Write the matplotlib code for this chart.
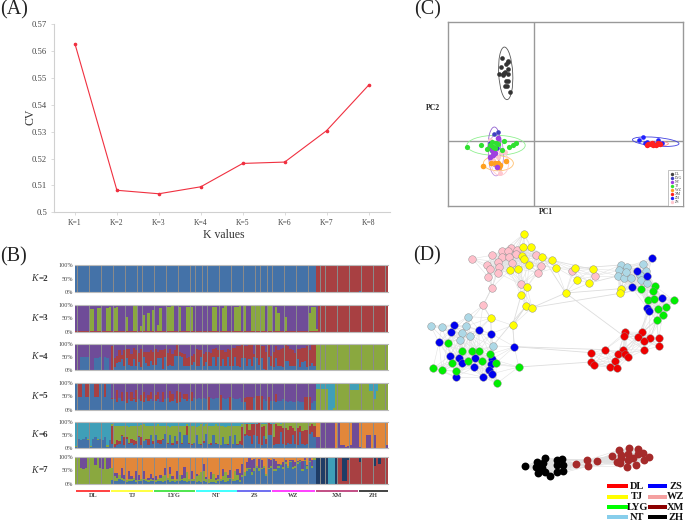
# -*- coding: utf-8 -*-
import numpy as np
import matplotlib
matplotlib.use('Agg')
import matplotlib.pyplot as plt
from matplotlib.patches import Ellipse, Rectangle

plt.rcParams['font.family'] = ['Liberation Serif', 'DejaVu Serif']

W, H = 685, 522

# ---- panel A
k_labels = ['K=1', 'K=2', 'K=3', 'K=4', 'K=5', 'K=6', 'K=7', 'K=8']
cv_values = [0.5627, 0.5082, 0.5069, 0.5095, 0.5182, 0.5187, 0.5304, 0.5473]
cv_ticks = [0.5, 0.51, 0.52, 0.53, 0.54, 0.55, 0.56, 0.57]
cv_ticklabels = ['0.5', '0.51', '0.52', '0.53', '0.54', '0.55', '0.56', '0.57']

# ---- panel B, percent of each individual, bottom layer first
BLUE, RED, GREEN, PURPLE = '#4472a8', '#a84042', '#8aa83f', '#6f4c98'
TEAL, ORANGE, NAVY = '#3f9fb8', '#e2873a', '#1f3d66'
n_ind = 130

k2_blue = [98] * 100 + [0] * 18 + [4] + [0] * 11

k3_green_idx = [6, 7, 9, 10, 13, 14, 16, 17, 21, 24, 25, 27, 28, 30, 32, 34, 35, 38, 39, 40, 43, 46, 47, 48,
                57, 58, 61, 62, 66, 67, 68, 70, 73, 74, 75, 76, 77, 78, 80, 81, 83, 84, 87, 97, 98, 99, 100]
k3_green_val = [82, 82, 85, 88, 85, 90, 88, 92, 55, 100, 100, 20, 60, 70, 80, 25, 85, 90, 90, 95, 92, 90, 90, 92,
                92, 92, 85, 95, 90, 90, 100, 100, 95, 95, 95, 95, 95, 95, 95, 95, 90, 70, 55, 70, 90, 90, 10]
k3_red = [1] * 101 + [100] * 29

k4_blue = [0, 0, 48, 48, 50, 48, 0, 0, 45, 45, 48, 0, 50, 45, 0,
           0, 10, 25, 30, 42, 15, 45, 20, 15, 42, 15, 30, 10, 50, 25, 15, 35, 20,
           20, 45, 45, 5, 50, 15, 20, 15, 52, 52, 52, 50, 15, 15, 15, 18, 30, 15,
           15, 50, 15, 30, 15, 15, 50, 15, 50, 15, 40, 15, 50, 15, 15, 50, 15, 10,
           45, 45, 15, 40, 15, 50, 45, 20, 45, 5, 0, 50, 15, 10, 45,
           15, 15, 10, 35, 35, 15, 15, 15, 40, 10, 30, 35, 10, 15, 25, 15]
k4_red = [0] * 15 + [90, 35, 30, 45, 15, 60, 35, 60, 45, 40, 60, 35, 70, 20, 45, 55, 40, 50,
                     60, 25, 30, 70, 30, 50, 60, 45, 25, 45, 15, 15, 45, 30, 35, 35, 30, 65,
                     60, 25, 45, 40, 55, 50, 30, 70, 25, 60, 35, 55, 30, 60, 70, 35, 75, 80,
                     50, 45, 75, 55, 85, 10, 50, 75, 45, 85, 70, 45, 40, 60, 45,
                     60, 65, 75, 60, 55, 65, 60, 50, 40, 70, 55, 50, 80, 60, 70, 85]
k4_green = [0] * 100 + [100] * 30

k5_blue = [100, 50, 50, 100, 48, 48, 100, 100, 48, 48, 100, 100, 48, 100, 100,
           40, 40, 30, 45, 35, 35, 25, 40, 35, 40, 30, 40, 35, 30, 45, 35, 40, 35,
           35, 40, 30, 30, 40, 45, 30, 35, 40, 25, 30, 45, 40, 35, 40, 35, 45, 40,
           45, 42, 45, 40, 0, 45, 40, 45, 45, 0, 45, 40, 45, 0, 45, 40, 40, 45,
           30, 30, 0, 0, 0, 45, 0, 0, 0, 40, 35, 0, 35, 35, 30,
           35, 35, 40, 35, 30, 35, 30, 30, 35, 30, 30, 0, 0, 0, 25, 35]
k5_red = [0, 50, 50, 0, 52, 52, 0, 0, 52, 52, 0, 0, 52, 0, 0,
          5, 0, 45, 0, 30, 0, 40, 0, 30, 5, 45, 0, 20, 35, 0, 20, 25, 0,
          20, 25, 0, 35, 0, 0, 40, 25, 0, 45, 35, 0, 20, 25, 0, 30, 0, 0,
          0, 0, 0, 0, 50, 0, 0, 0, 0, 55, 0, 0, 0, 50, 0, 0, 0, 0,
          0, 15, 50, 50, 50, 0, 52, 52, 52, 0, 0, 50, 0, 0, 30,
          0, 0, 0, 0, 0, 0, 0, 0, 0, 0, 0, 50, 50, 50, 0, 0]
k5_green = [0] * 100 + [78, 78, 78, 78, 78, 0, 0, 8, 95, 100, 100, 100, 100, 100, 75, 75, 75, 75,
                        100, 100, 100, 100, 70, 70, 40, 70, 100, 100, 100, 100]
k5_teal = [0] * 100 + [22, 22, 22, 22, 22, 100, 100, 92, 5, 0, 0, 0, 0, 0, 25, 25, 25, 25,
                       0, 0, 0, 0, 30, 30, 60, 30, 0, 0, 0, 0]

k6_blue = [5, 35, 30, 35, 40, 30, 5, 35, 40, 30, 35, 30, 40, 5, 30,
           15, 5, 10, 15, 45, 10, 35, 15, 20, 10, 15, 40, 12, 25, 30, 10, 50, 15,
           50, 20, 15, 30, 55, 15, 50, 10, 45, 15, 60, 15, 50, 50, 15, 10, 20, 50,
           15, 10, 20, 55, 15, 10, 50, 15, 15, 10, 40, 15, 10, 45, 15, 50, 10, 15,
           10, 45, 50, 45, 15, 50, 45, 15, 10, 45, 15, 50, 50, 10, 15,
           15, 60, 15, 10, 20, 15, 50, 15, 10, 60, 15, 10, 15, 55, 60, 40]
k6_red = [0] * 15 + [70, 10, 20, 10, 5, 30, 5, 5, 15, 20, 10, 5, 30, 0, 5, 25, 0, 10,
                     0, 10, 15, 5, 0, 5, 0, 10, 0, 10, 0, 5, 0, 35, 5, 5, 0, 0,
                     0, 5, 5, 0, 0, 10, 0, 5, 0, 0, 0, 0, 5, 0, 0, 0, 5, 10,
                     70, 10, 40, 25, 75, 40, 45, 80, 70, 40, 20, 45, 40, 30, 75,
                     70, 25, 60, 65, 50, 70, 25, 50, 65, 25, 50, 60, 55, 30, 30, 45]
k6_green = [3, 0, 0, 0, 0, 5, 3, 0, 0, 5, 0, 0, 3, 5, 0,
            5, 70, 55, 60, 35, 45, 45, 60, 50, 55, 60, 40, 45, 65, 50, 50, 35, 60,
            35, 60, 55, 50, 30, 65, 30, 65, 40, 60, 25, 65, 35, 5, 65, 70, 65, 30,
            70, 75, 60, 35, 70, 65, 35, 70, 70, 75, 45, 65, 70, 40, 70, 35, 70, 60,
            10, 35, 0, 20, 0, 0, 0, 0, 10, 5, 55, 5, 0, 50, 5,
            10, 5, 20, 20, 25, 10, 20, 30, 20, 10, 30, 25, 25, 10, 5, 10]
k6_purple = [0] * 100 + [40, 40, 100, 100, 100, 100, 100, 100, 0, 100, 10, 10, 5, 8, 10, 100, 100, 100,
                         5, 0, 0, 50, 50, 0, 50, 0, 0, 0, 0, 10]
k6_orange = [0] * 100 + [60, 60, 0, 0, 0, 0, 0, 0, 100, 0, 90, 90, 95, 92, 90, 0, 0, 0,
                         95, 100, 100, 50, 50, 100, 50, 100, 100, 100, 100, 90]

k7_blue = [0] * 15 + [15, 10, 12, 20, 15, 10, 8, 12, 10, 15, 8, 10, 12, 15, 10, 8, 12, 10,
                      8, 10, 12, 8, 10, 15, 8, 10, 8, 12, 10, 15, 12, 8, 10, 12, 10, 8,
                      12, 8, 10, 8, 5, 8, 6, 5, 12, 10, 15, 8, 12, 18, 10, 12, 15, 8,
                      25, 30, 50, 55, 35, 50, 60, 50, 55, 60, 30, 55, 60, 48, 50,
                      60, 70, 55, 75, 60, 80, 55, 60, 75, 80, 50, 85, 55, 80, 60, 90]
k7_green = [100, 100, 60, 55, 60, 100, 100, 100, 70, 100, 60, 55, 100, 55, 60,
            45, 20, 10, 15, 8, 10, 8, 5, 10, 8, 6, 5, 8, 5, 10, 8, 5, 6,
            5, 8, 10, 20, 25, 8, 30, 10, 5, 8, 25, 5, 10, 35, 8, 5, 10, 20,
            20, 35, 40, 10, 15, 12, 30, 8, 6, 10, 15, 35, 10, 5, 8, 35, 20, 8,
            8, 15, 8, 5, 10, 8, 5, 8, 5, 5, 8, 6, 5, 8, 5,
            5, 5, 8, 5, 5, 5, 8, 8, 5, 5, 5, 5, 10, 5, 5, 5]
k7_purple = [0, 0, 40, 45, 40, 0, 0, 0, 30, 0, 40, 45, 0, 45, 40,
             0, 10, 20, 0, 35, 15, 0, 30, 8, 0, 35, 20, 0, 30, 0, 8, 20, 5,
             15, 0, 10, 0, 25, 0, 25, 10, 0, 30, 0, 15, 40, 0, 0, 30, 0, 10,
             0, 0, 25, 8, 0, 25, 0, 10, 15, 0, 25, 0, 10, 30, 0, 0, 20, 25,
             40, 0, 25, 35, 45, 35, 0, 35, 30, 0, 0, 30, 25, 35, 30,
             10, 0, 20, 10, 0, 5, 25, 15, 5, 5, 30, 5, 5, 10, 25, 5]
k7_red = [0] * 100 + [0, 0, 0, 0, 0, 0, 0, 0, 0, 100, 100, 10, 10, 90, 95, 100, 100, 100, 80,
                      100, 100, 100, 100, 100, 65, 100, 75, 100, 100, 100]
k7_navy = [0] * 100 + [100, 100, 100, 100, 100, 0, 0, 0, 100, 0, 0, 90, 90, 10, 5, 0, 0, 0, 20,
                       0, 0, 0, 0, 0, 35, 0, 25, 0, 0, 0]
k7_teal = [0] * 100 + [0, 0, 0, 0, 0, 100, 100, 100]

percent_ticks = [0, 50, 100]
percent_labels = ['0%', '50%', '100%']
group_names = ['DL', 'TJ', 'LYG', 'NT', 'ZS', 'WZ', 'XM', 'ZH']
group_start = [75.7, 111, 154, 195.7, 237.3, 271.7, 316, 359]
group_end = [110.3, 153.3, 195, 236.7, 271, 315, 358, 388.3]
group_colors = ['#ff2020', '#ffff20', '#30e030', '#20ffff', '#5555ee', '#ff20ff', '#b83070', '#222222']

# ---- panel C, positions on the PC1/PC2 plane
pc_black = [(277, 173), (295, 182), (293, 187), (288, 192), (273, 200), (293, 207), (267, 222), (280, 222),
            (285, 215), (283, 218), (280, 225), (295, 222), (287, 243), (295, 242), (285, 258), (290, 258), (301, 277)]
pc_navy = [(265, 396), (252, 403), (240, 430), (262, 445), (246, 452)]
pc_purple = [(245, 440), (250, 452), (238, 445), (255, 458), (250, 465), (265, 415), (240, 470), (262, 500)]
pc_green = [(171, 440), (214, 435), (245, 427), (258, 428), (265, 432), (250, 440), (240, 435), (255, 445),
            (230, 448), (283, 422), (298, 440), (308, 435), (317, 428), (277, 450)]
pc_orange = [(220, 497), (242, 490), (265, 490), (270, 495), (262, 497), (268, 502), (287, 484), (255, 488)]
pc_pink = [(272, 455), (285, 455), (265, 470), (250, 480), (270, 520), (240, 420)]
pc_blue = [(699, 412), (688, 421), (705, 430), (710, 425), (745, 420), (745, 430), (755, 430), (740, 432), (730, 430)]
pc_red = [(715, 433), (722, 432), (730, 434), (738, 434), (745, 430), (750, 432), (725, 430), (710, 435)]
pc_legend_names = ['DL', 'LYG', 'NT', 'TJ', 'WZ', 'XM', 'ZH', 'ZS']
pc_legend_colors = ['#444444', '#4040c0', '#a040e0', '#30e030', '#ffa020', '#ff2020', '#2020ff', '#ffc8d0']

# ---- panel D, network layout positions
net_pink = [(187, 71), (245, 61), (276, 49), (303, 39), (320, 45), (295, 48), (317, 57), (277, 67), (298, 67),
            (265, 81), (231, 89), (305, 85), (268, 97), (239, 103), (263, 113), (234, 125), (246, 158), (332, 148),
            (219, 211), (378, 59), (392, 93), (384, 113), (487, 108), (555, 123)]
net_yellow = [(341, -3), (338, 35), (362, 36), (336, 64), (341, 73), (397, 65), (426, 76), (357, 89), (439, 98),
              (299, 105), (323, 101), (495, 100), (548, 103), (502, 134), (538, 144), (633, 161), (630, 175),
              (351, 155), (333, 181), (467, 174), (347, 214), (366, 218), (242, 249), (308, 271)]
net_lightblue = [(632, 90), (652, 97), (628, 106), (623, 123), (641, 128), (662, 128), (648, 112), (700, 86),
                 (708, 108), (691, 120), (694, 135), (710, 143), (174, 245), (62, 272), (95, 277), (168, 273),
                 (156, 295), (181, 302), (150, 314), (248, 333)]
net_blue = [(725, 68), (682, 107), (711, 124), (665, 157), (755, 188), (711, 218), (717, 228), (131, 270),
            (123, 290), (208, 286), (243, 296), (87, 322), (313, 335), (119, 363), (146, 369), (155, 383),
            (196, 370), (245, 372), (242, 388), (191, 397), (236, 405), (247, 416), (220, 426), (138, 426)]
net_green = [(735, 153), (728, 168), (693, 163), (714, 195), (732, 193), (791, 196), (769, 216), (743, 223),
             (758, 241), (740, 256), (113, 323), (155, 347), (186, 349), (207, 349), (240, 358), (127, 384),
             (173, 378), (216, 378), (257, 385), (69, 400), (96, 406), (137, 409), (261, 445), (326, 396)]
net_red = [(646, 291), (641, 303), (696, 292), (683, 306), (721, 308), (746, 310), (702, 319), (746, 334),
           (703, 345), (640, 344), (585, 344), (543, 353), (624, 358), (645, 356), (655, 367), (616, 378),
           (544, 381), (552, 391), (601, 395), (621, 400)]
# the long links that cross the empty middle of the layout
long_links = [((467, 174), (641, 303)), ((313, 335), (543, 353)), ((326, 396), (544, 381)),
              ((313, 335), (585, 344)), ((467, 174), (633, 161)), ((366, 218), (467, 174)),
              ((366, 218), (630, 175)), ((467, 174), (397, 65)), ((548, 103), (426, 76)),
              ((739, 256), (696, 292)), ((740, 256), (721, 308)), ((717, 228), (683, 306)),
              ((308, 271), (347, 214)), ((248, 333), (347, 214)), ((219, 211), (246, 158)),
              ((308, 271), (313, 335)), ((242, 249), (219, 211)), ((333, 181), (308, 271)),
              ((495, 100), (632, 90)), ((538, 144), (623, 123)), ((630, 175), (693, 163))]

sub_black = [(75, 139), (110, 125), (135, 115), (118, 135), (108, 140), (125, 145), (115, 160), (135, 155),
             (150, 168), (170, 120), (185, 118), (170, 135), (190, 135), (170, 155), (188, 152), (128, 130)]
sub_brown = [(227, 131), (262, 120), (265, 139), (291, 122), (335, 107), (358, 90), (388, 84), (415, 88),
             (428, 98), (448, 110), (432, 120), (362, 105), (385, 102), (415, 102), (350, 125), (360, 130),
             (380, 140), (400, 115), (408, 135), (385, 120), (362, 115)]
legend_names = ['DL', 'TJ', 'LYG', 'NT', 'ZS', 'WZ', 'XM', 'ZH']
legend_colors = ['#ff0000', '#ffff00', '#00ff00', '#87ceeb', '#0000ff', '#f4a0a0', '#8b0000', '#000000']


def px_axes(left, top, right, bottom):
    return fig.add_axes([left / W, 1 - bottom / H, (right - left) / W, (bottom - top) / H])


def structure_row(top, bottom, layers, top_color, label):
    ax = px_axes(75, top, 388, bottom)
    xs = np.arange(n_ind) + 0.5
    base = np.zeros(n_ind)
    for values, color in layers:
        v = np.zeros(n_ind)
        v[:len(values)] = values
        ax.bar(xs, v, width=0.9, bottom=base, color=color, linewidth=0)
        base = base + v
    ax.bar(xs, np.clip(100 - base, 0, None), width=0.9, bottom=base, color=top_color, linewidth=0)
    ax.set_xlim(0, n_ind)
    ax.set_ylim(0, 100)
    ax.set_xticks([])
    ax.set_yticks(percent_ticks)
    ax.set_yticklabels(percent_labels, fontsize=4.5, color='#444444')
    ax.tick_params(length=0, pad=1.5)
    ax.set_facecolor('#8a8a8a')
    for s in ['left', 'right']:
        ax.spines[s].set_visible(False)
    for s in ['top', 'bottom']:
        ax.spines[s].set_color('#bbbbbb')
        ax.spines[s].set_linewidth(0.8)
    mid = (top + bottom) / 2
    bg.text(31, mid, 'K', style='italic', fontsize=7, va='center', ha='left', color='#333333')
    bg.text(39, mid, label, fontweight='bold', fontsize=6.5, va='center', ha='left', color='#333333')


fig = plt.figure(figsize=(W / 100, H / 100), dpi=100)

# whole-figure layer, used for the free text
bg = fig.add_axes([0, 0, 1, 1])
bg.set_xlim(0, W)
bg.set_ylim(H, 0)
bg.axis('off')
bg.text(0, 10, '(A)', fontsize=14.5, va='center', ha='left', color='#222222')
bg.text(0, 257, '(B)', fontsize=14.5, va='center', ha='left', color='#222222')
bg.text(414, 10, '(C)', fontsize=14.5, va='center', ha='left', color='#222222')
bg.text(413, 256, '(D)', fontsize=14.5, va='center', ha='left', color='#222222')

# A
ax = px_axes(54, 24.3, 389.5, 212.3)
ax.plot(range(1, 9), cv_values, color='#f03040', lw=0.8, marker='o', ms=1.6)
ax.set_xlim(0.5, 8.5)
ax.set_ylim(0.5, 0.57)
ax.set_xticks(range(1, 9))
ax.set_xticklabels(k_labels, fontsize=5.5, color='#444444')
ax.set_yticks(cv_ticks)
ax.set_yticklabels(cv_ticklabels, fontsize=6.2, color='#444444')
ax.tick_params(length=2, width=0.5, color='#cccccc', pad=3)
for s in ['top', 'right']:
    ax.spines[s].set_visible(False)
for s in ['left', 'bottom']:
    ax.spines[s].set_color('#d0d0d0')
    ax.spines[s].set_linewidth(0.8)
bg.text(31, 117, 'CV', fontsize=8.5, rotation=90, va='center', ha='center', color='#333333')
bg.text(224, 234.5, 'K values', fontsize=8.5, va='center', ha='center', color='#333333')

# B
k3_green = np.zeros(n_ind)
k3_green[k3_green_idx] = k3_green_val
structure_row(265, 292.3, [(k2_blue, BLUE)], RED, '=2')
structure_row(304.7, 331.7, [(k3_red, RED), (k3_green, GREEN)], PURPLE, '=3')
structure_row(343.7, 370, [(k4_blue, BLUE), (k4_red, RED), (k4_green, GREEN)], PURPLE, '=4')
structure_row(383, 410, [(k5_blue, BLUE), (k5_red, RED), (k5_green, GREEN), (k5_teal, TEAL)], PURPLE, '=5')
structure_row(421.7, 448, [(k6_blue, BLUE), (k6_red, RED), (k6_green, GREEN), (k6_purple, PURPLE), (k6_orange, ORANGE)],
              TEAL, '=6')
structure_row(457, 484, [(k7_blue, BLUE), (k7_green, GREEN), (k7_purple, PURPLE), (k7_red, RED), (k7_navy, NAVY),
                         (k7_teal, TEAL)], ORANGE, '=7')
for name, x0, x1, c in zip(group_names, group_start, group_end, group_colors):
    bg.plot([x0, x1], [490.7, 490.7], color=c, lw=1.2, solid_capstyle='butt')
    bg.text((x0 + x1) / 2, 495.5, name, fontsize=4.5, fontweight='bold', ha='center', va='center', color='#444444')

# C
ax = px_axes(447.7, 21.7, 682.7, 206)
ax.set_xlim(113, 818)
ax.set_ylim(618, 65)
ax.set_xticks([])
ax.set_yticks([])
for s in ax.spines.values():
    s.set_color('#999999')
    s.set_linewidth(1)
ax.axvline(373, color='#999999', lw=1, zorder=1)
ax.axhline(424, color='#999999', lw=1, zorder=1)
ellipses = [((287, 220), 42, 158, -3, '#555555'), ((258, 436), 175, 60, 0, '#90f090'),
            ((253, 440), 38, 118, 0, '#9060d0'), ((258, 465), 45, 125, 0, '#c090e0'),
            ((265, 490), 90, 45, 0, '#ffc070'), ((270, 490), 52, 72, 0, '#ffc8d0'),
            ((737, 425), 140, 26, 5, '#4040e0'), ((740, 431), 70, 15, 0, '#ff9090')]
for center, w, h, angle, c in ellipses:
    ax.add_patch(Ellipse(center, w, h, angle=angle, fill=False, edgecolor=c, lw=0.6, zorder=2))
pc_groups = [(pc_black, '#333333', 11), (pc_pink, '#ffc8d0', 13), (pc_orange, '#ffa020', 16), (pc_navy, '#4040c0', 11),
             (pc_purple, '#a040e0', 16), (pc_green, '#30e030', 14), (pc_blue, '#2020ff', 11), (pc_red, '#ff2020', 15)]
for pts, c, s in pc_groups:
    x, y = np.array(pts).T
    ax.scatter(x, y, s=s, color=c, linewidths=0, zorder=3)
ax.add_patch(Rectangle((775, 510), 43, 108, facecolor='white', edgecolor='#aaaaaa', lw=0.5, zorder=4))
for i, (name, c) in enumerate(zip(pc_legend_names, pc_legend_colors)):
    y = 521 + i * 12.3
    ax.scatter([785], [y], s=6, color=c, linewidths=0, zorder=5)
    ax.text(794, y, name, fontsize=2.8, va='center', ha='left', color='#444444', zorder=5)
bg.text(433, 108.5, 'PC2', fontsize=5.5, fontweight='bold', va='center', ha='center', color='#222222')
bg.text(545.5, 211.5, 'PC1', fontsize=5.5, fontweight='bold', va='center', ha='center', color='#222222')

# D
ax = px_axes(410, 235, 685, 415)
ax.set_xlim(0, 825)
ax.set_ylim(540, 0)
ax.axis('off')
net_groups = [(net_pink, 'pink'), (net_yellow, '#ffff00'), (net_lightblue, 'lightblue'),
              (net_blue, '#0000ee'), (net_green, '#00ee00'), (net_red, '#ee0000')]
all_nodes = np.array([p for pts, _ in net_groups for p in pts])
for i in range(len(all_nodes)):
    for j in range(i + 1, len(all_nodes)):
        if np.hypot(*(all_nodes[i] - all_nodes[j])) < 85:
            ax.plot(*zip(all_nodes[i], all_nodes[j]), color='#e2e2e2', lw=0.4, zorder=1)
for p, q in long_links:
    ax.plot(*zip(p, q), color='#dddddd', lw=0.6, zorder=1)
for pts, c in net_groups:
    x, y = np.array(pts).T
    ax.scatter(x, y, s=30, color=c, edgecolors='#888888', linewidths=0.3, zorder=3, clip_on=False)

ax = px_axes(500, 420, 685, 522)
ax.set_xlim(0, 555)
ax.set_ylim(306, 0)
ax.axis('off')
sub_nodes = np.array(sub_black + sub_brown)
for i in range(len(sub_nodes)):
    for j in range(i + 1, len(sub_nodes)):
        if np.hypot(*(sub_nodes[i] - sub_nodes[j])) < 130:
            ax.plot(*zip(sub_nodes[i], sub_nodes[j]), color='#e0e0e0', lw=0.4, zorder=1)
for pts, c in [(sub_black, '#000000'), (sub_brown, '#a52a2a')]:
    x, y = np.array(pts).T
    ax.scatter(x, y, s=32, color=c, linewidths=0, zorder=3)
for i, (name, c) in enumerate(zip(legend_names, legend_colors)):
    col, row = i // 4, i % 4
    y = 199 + row * 30.5
    x0 = 322 if col == 0 else 445
    ax.add_patch(Rectangle((x0, y - 6), 62 if col == 0 else 55, 12, facecolor=c, edgecolor='none', zorder=3))
    ax.text(412 if col == 0 else 527, y + 1, name, fontsize=7.5, fontweight='bold', va='center', ha='center',
            color='#111111', zorder=4)

fig.savefig('out.png', dpi=100)
